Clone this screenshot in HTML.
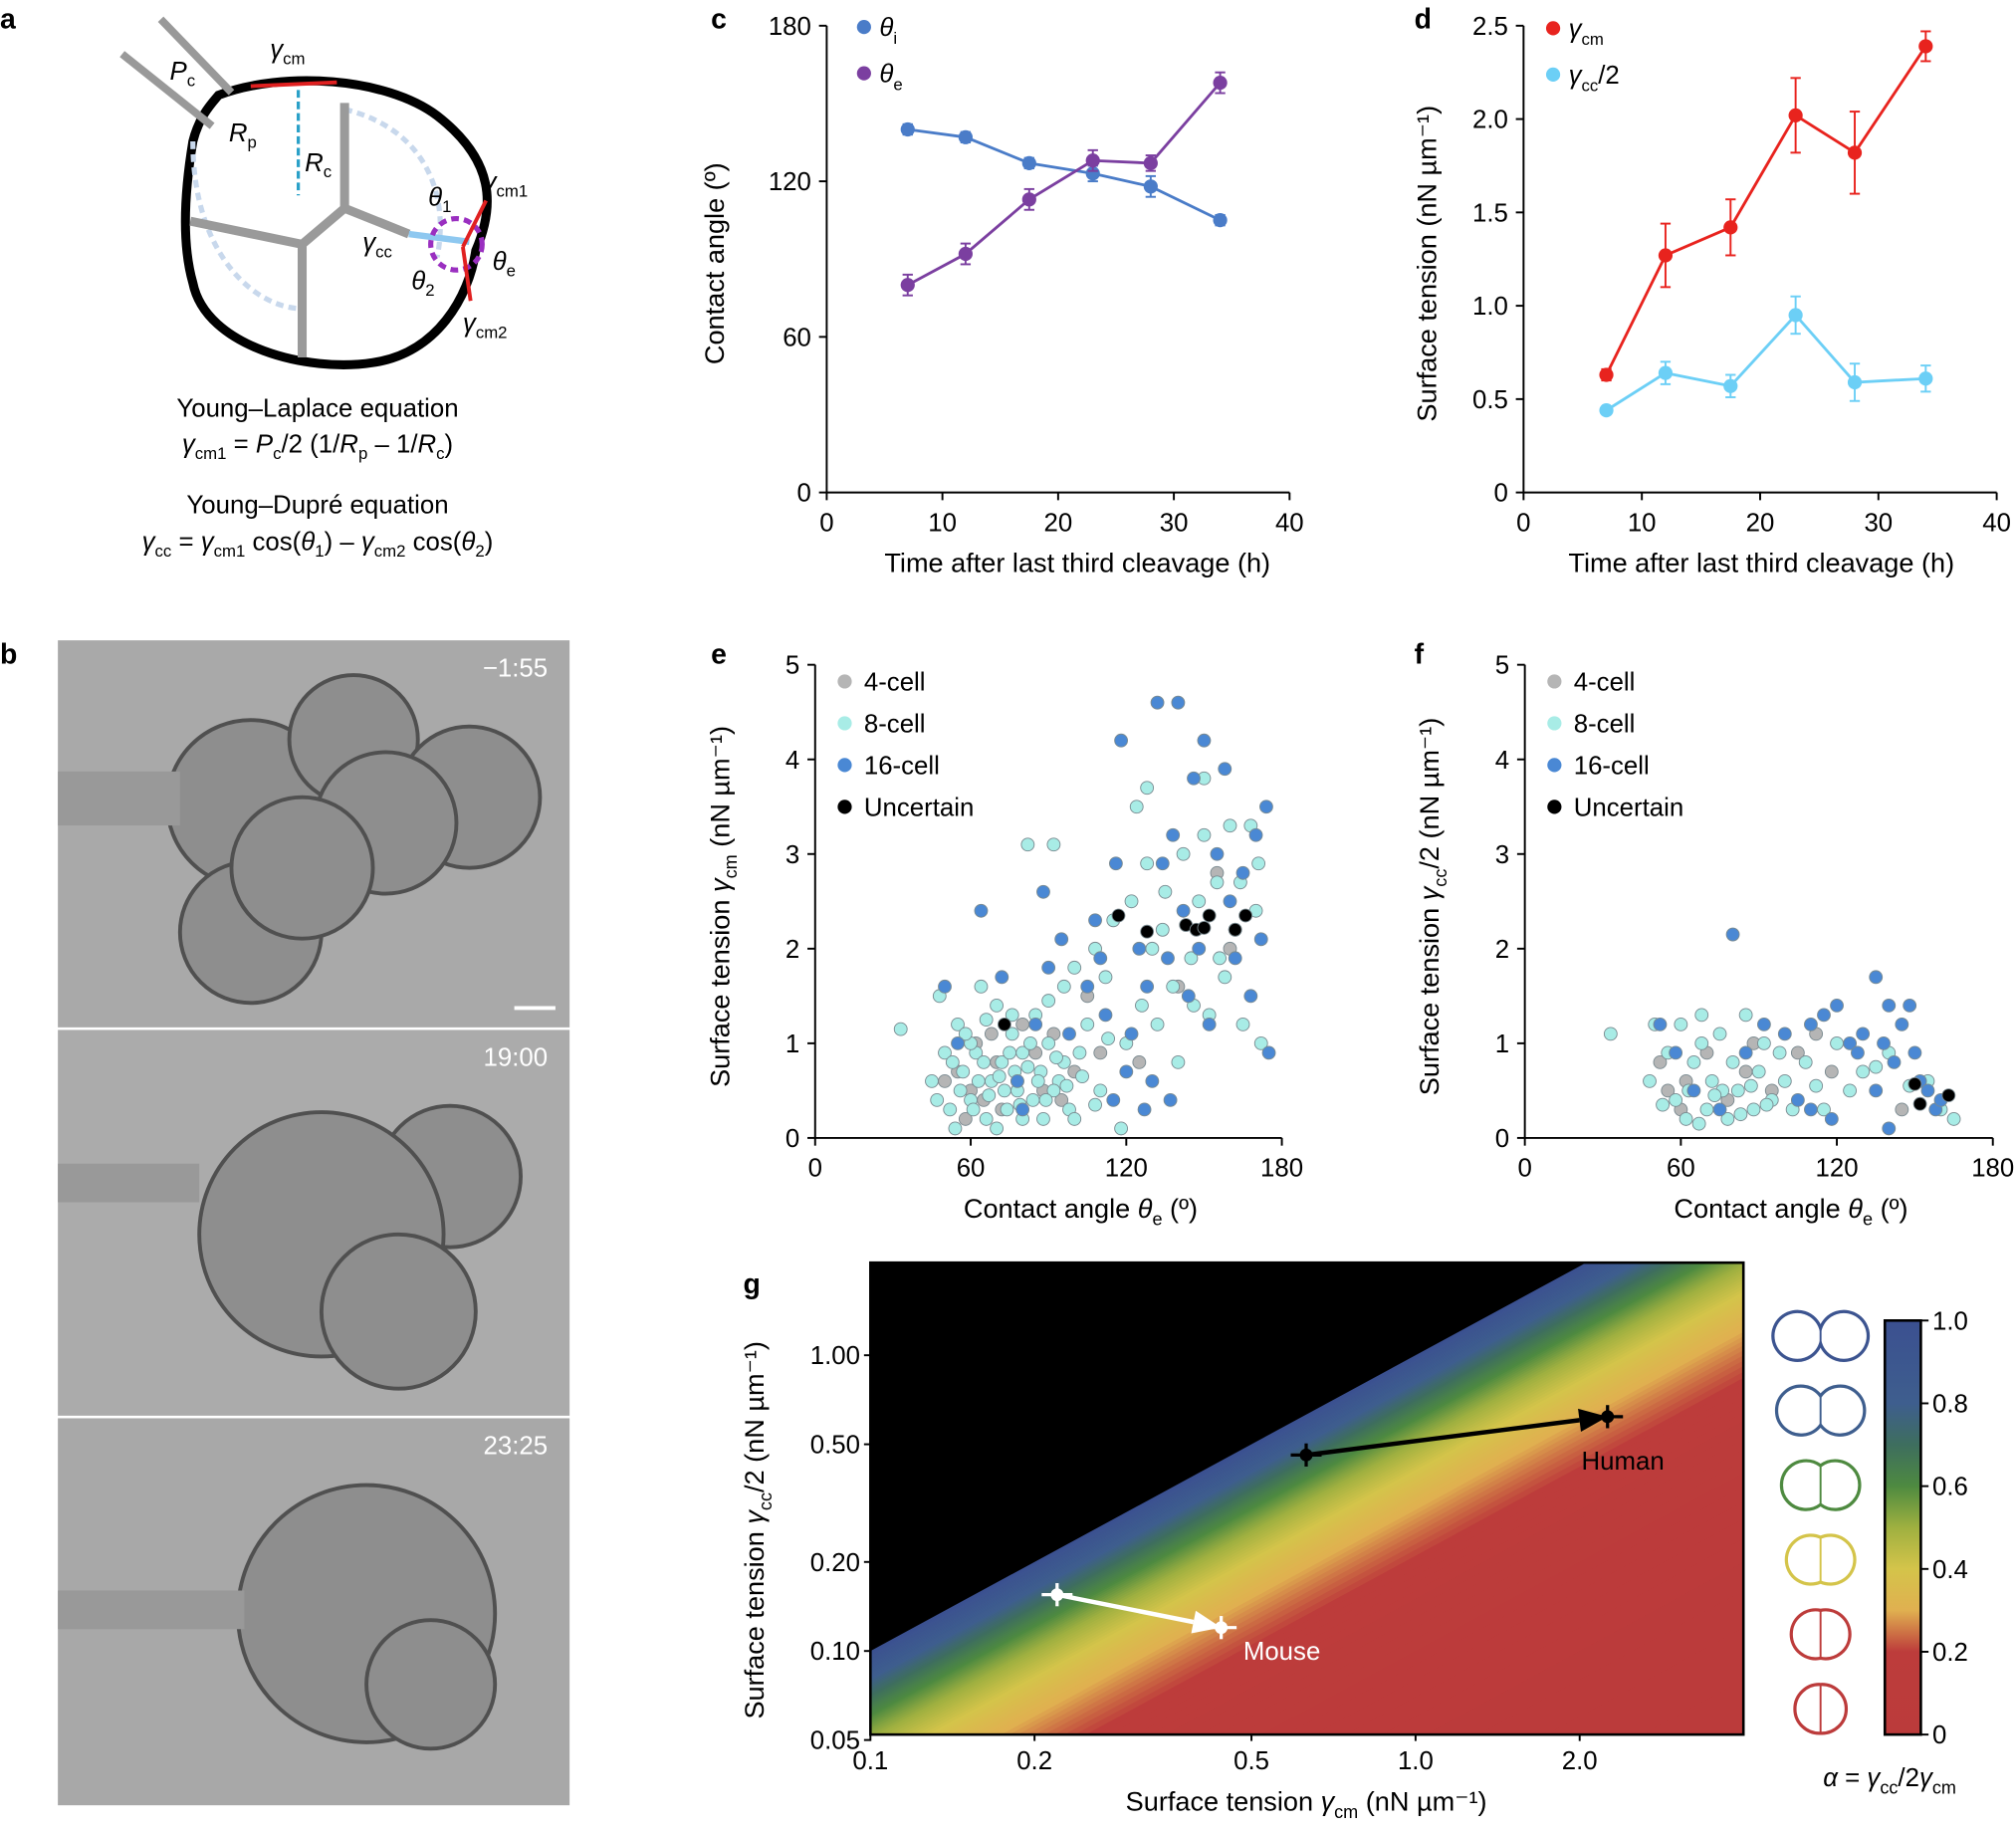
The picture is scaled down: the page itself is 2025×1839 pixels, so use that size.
<!DOCTYPE html>
<html><head><meta charset="utf-8">
<style>
html,body{margin:0;padding:0;background:#fff;width:2025px;height:1839px;overflow:hidden}
svg{display:block;font-family:"Liberation Sans",sans-serif}
</style></head>
<body>
<svg id="fig" width="2025" height="1839" viewBox="0 0 1568 1424" xmlns="http://www.w3.org/2000/svg">
<defs>
<clipPath id="gclip"><rect x="677" y="982" width="679" height="367"/></clipPath>
<linearGradient id="cbar" x1="0" y1="1" x2="0" y2="0">
<stop offset="0" stop-color="#bb3b3b"/><stop offset="0.2" stop-color="#bd3c3b"/>
<stop offset="0.3" stop-color="#e0b050"/><stop offset="0.4" stop-color="#d4c44a"/>
<stop offset="0.5" stop-color="#9fb040"/><stop offset="0.6" stop-color="#4e8a40"/>
<stop offset="0.7" stop-color="#3e6e5e"/><stop offset="0.8" stop-color="#3e5e8e"/>
<stop offset="1" stop-color="#3b5090"/></linearGradient>
</defs>

<g font-weight="bold" font-size="22">
<text x="0" y="22">a</text><text x="0" y="516">b</text><text x="553" y="22">c</text><text x="1100" y="22">d</text>
<text x="553" y="516">e</text><text x="1100" y="516">f</text><text x="578" y="1006">g</text></g>

<g>
<path d="M170 74 C220 55 300 60 340 90 C385 125 385 160 370 195 C365 230 340 275 290 282 C240 290 160 270 150 220 C140 185 145 140 150 110 C155 90 165 80 170 74 Z" fill="none" stroke="#000" stroke-width="7"/>
<path d="M150 110 C150 200 200 240 235 240" fill="none" stroke="#c8d8ec" stroke-width="4" stroke-dasharray="6 4"/>
<path d="M268 85 C330 100 350 150 340 200" fill="none" stroke="#c8d8ec" stroke-width="4" stroke-dasharray="6 4"/>
<g stroke="#9a9a9a" stroke-width="7" fill="none">
<path d="M268 80 L268 162 L235 190 L148 172"/><path d="M235 190 L235 278"/><path d="M268 162 L318 182"/></g>
<line x1="318" y1="182" x2="365" y2="188" stroke="#8ec8f0" stroke-width="5"/>
<circle cx="355" cy="190" r="20" fill="none" stroke="#9a2fc0" stroke-width="4" stroke-dasharray="6 4"/>
<line x1="232" y1="70" x2="232" y2="152" stroke="#2aa0c8" stroke-width="2.5" stroke-dasharray="6 3"/>
<g stroke="#e02020" stroke-width="3"><line x1="195" y1="67" x2="262" y2="64"/><line x1="360" y1="192" x2="378" y2="156"/><line x1="360" y1="192" x2="366" y2="234"/></g>
<line x1="95" y1="42" x2="165" y2="98" stroke="#999" stroke-width="6"/><line x1="125" y1="15" x2="180" y2="72" stroke="#999" stroke-width="6"/>
<g font-size="20" font-style="italic">
<text x="132" y="62">P<tspan font-size="13" dy="5" font-style="normal">c</tspan></text>
<text x="210" y="45">γ<tspan font-size="13" dy="5" font-style="normal">cm</tspan></text>
<text x="178" y="110">R<tspan font-size="13" dy="5" font-style="normal">p</tspan></text>
<text x="237" y="133">R<tspan font-size="13" dy="5" font-style="normal">c</tspan></text>
<text x="333" y="160">θ<tspan font-size="13" dy="5" font-style="normal">1</tspan></text>
<text x="320" y="225">θ<tspan font-size="13" dy="5" font-style="normal">2</tspan></text>
<text x="282" y="195">γ<tspan font-size="13" dy="5" font-style="normal">cc</tspan></text>
<text x="383" y="210">θ<tspan font-size="13" dy="5" font-style="normal">e</tspan></text>
<text x="376" y="148">γ<tspan font-size="13" dy="5" font-style="normal">cm1</tspan></text>
<text x="360" y="258">γ<tspan font-size="13" dy="5" font-style="normal">cm2</tspan></text></g>
<g font-size="20" text-anchor="middle">
<text x="247" y="324">Young–Laplace equation</text>
<text x="247" y="352"><tspan font-style="italic">γ</tspan><tspan font-size="13" dy="5">cm1</tspan><tspan dy="-5"> = </tspan><tspan font-style="italic">P</tspan><tspan font-size="13" dy="5">c</tspan><tspan dy="-5">/2 (1/</tspan><tspan font-style="italic">R</tspan><tspan font-size="13" dy="5">p</tspan><tspan dy="-5"> – 1/</tspan><tspan font-style="italic">R</tspan><tspan font-size="13" dy="5">c</tspan><tspan dy="-5">)</tspan></text>
<text x="247" y="399">Young–Dupré equation</text>
<text x="247" y="428"><tspan font-style="italic">γ</tspan><tspan font-size="13" dy="5">cc</tspan><tspan dy="-5"> = </tspan><tspan font-style="italic">γ</tspan><tspan font-size="13" dy="5">cm1</tspan><tspan dy="-5"> cos(</tspan><tspan font-style="italic">θ</tspan><tspan font-size="13" dy="5">1</tspan><tspan dy="-5">) – </tspan><tspan font-style="italic">γ</tspan><tspan font-size="13" dy="5">cm2</tspan><tspan dy="-5"> cos(</tspan><tspan font-style="italic">θ</tspan><tspan font-size="13" dy="5">2</tspan><tspan dy="-5">)</tspan></text></g>
</g>

<g>
<rect x="45" y="498" width="398" height="301" fill="#a9a9a9"/>
<rect x="45" y="801" width="398" height="300" fill="#ababab"/>
<rect x="45" y="1103" width="398" height="301" fill="#a8a8a8"/>
<g fill="#8e8e8e" stroke="#505050" stroke-width="3">
<circle cx="195" cy="625" r="65"/><circle cx="275" cy="575" r="50"/><circle cx="365" cy="620" r="55"/><circle cx="300" cy="640" r="55"/><circle cx="195" cy="725" r="55"/><circle cx="235" cy="675" r="55"/>
<circle cx="350" cy="915" r="55"/><circle cx="250" cy="960" r="95"/><circle cx="310" cy="1020" r="60"/>
<circle cx="285" cy="1255" r="100"/><circle cx="335" cy="1310" r="50"/></g>
<g fill="#999"><rect x="45" y="600" width="95" height="42"/><rect x="45" y="905" width="110" height="30"/><rect x="45" y="1237" width="145" height="30"/></g>
<g fill="#fff" font-size="20" text-anchor="end"><text x="426" y="526">−1:55</text><text x="426" y="829">19:00</text><text x="426" y="1131">23:25</text></g>
<line x1="400" y1="784" x2="432" y2="784" stroke="#fff" stroke-width="3"/>
</g>

<g id="charts"></g>
</svg>
<script>
const cTimes = [7, 12, 17.5, 23, 28, 34];
const thetaI = [140, 137, 127, 123, 118, 105];
const thetaIErr = [2, 2, 2, 3, 4, 2];
const thetaE = [80, 92, 113, 128, 127, 158];
const thetaEErr = [4, 4, 4, 4, 3, 4];
const cXTicks = [0, 10, 20, 30, 40];
const cYTicks = [0, 60, 120, 180];
const dTimes = [7, 12, 17.5, 23, 28, 34];
const gammaCm = [0.63, 1.27, 1.42, 2.02, 1.82, 2.39];
const gammaCmErr = [0.03, 0.17, 0.15, 0.2, 0.22, 0.08];
const gammaCc = [0.44, 0.64, 0.57, 0.95, 0.59, 0.61];
const gammaCcErr = [0.02, 0.06, 0.06, 0.1, 0.1, 0.07];
const dXTicks = [0, 10, 20, 30, 40];
const dYTicks = [0, 0.5, 1.0, 1.5, 2.0, 2.5];
const e4cell = [[55,0.7],[60,0.5],[62,1.0],[65,0.4],[70,0.8],[72,0.3],[78,0.6],[80,1.2],[85,0.9],[88,0.5],[92,1.1],[95,0.4],[100,0.7],[105,1.5],[110,0.9],[125,0.8],[140,1.6],[155,2.8],[160,2.0],[50,0.6],[58,0.2],[68,1.1]];
const e8cell = [[33,1.15],[45,0.6],[48,1.5],[50,0.9],[52,0.3],[55,1.2],[57,0.7],[60,0.4],[62,0.9],[64,1.6],[66,0.2],[68,0.6],[70,1.4],[72,0.8],[74,0.3],[76,1.1],[78,0.5],[80,0.9],[82,3.1],[84,0.4],[85,1.3],[87,0.7],[88,0.2],[90,1.0],[92,3.1],[94,0.6],[96,1.6],[98,0.3],[100,1.8],[102,0.9],[105,1.2],[108,2.0],[110,0.5],[112,1.7],[115,2.3],[118,0.1],[120,1.0],[122,2.5],[124,3.5],[126,1.4],[128,3.7],[130,2.0],[132,1.2],[135,2.6],[138,1.6],[140,0.8],[142,3.0],[145,1.9],[148,2.5],[150,3.2],[152,1.3],[155,2.7],[158,1.7],[160,3.3],[162,2.2],[165,1.2],[168,3.3],[170,2.4],[172,1.0],[150,3.8],[60,1.0],[65,0.8],[75,0.9],[83,1.0],[92,0.5],[56,0.5],[70,0.1],[80,0.2],[100,0.2],[53,0.8],[63,0.6],[73,0.5],[86,0.6],[96,0.8],[58,1.1],[77,0.7],[47,0.4],[54,0.1],[61,0.3],[67,0.45],[71,0.65],[79,0.35],[82,0.75],[89,0.4],[93,0.85],[97,0.55],[103,0.65],[66,1.25],[76,1.3],[90,1.45],[108,0.35],[113,1.05],[128,2.9],[134,2.2],[146,1.4],[156,1.9],[164,2.7],[171,2.9]];
const e16cell = [[50,1.6],[55,1.0],[64,2.4],[72,1.7],[78,0.6],[85,1.2],[90,1.8],[95,2.1],[98,1.1],[105,1.6],[108,2.3],[112,1.3],[115,0.4],[118,4.2],[120,0.7],[122,1.1],[125,2.0],[128,1.6],[130,0.6],[132,4.6],[134,2.9],[136,1.9],[138,3.2],[140,4.6],[142,2.4],[144,1.5],[146,3.8],[148,2.0],[150,4.2],[152,1.2],[155,3.0],[158,3.9],[160,2.5],[162,1.9],[165,2.8],[168,1.5],[170,3.2],[172,2.1],[174,3.5],[175,0.9],[88,2.6],[80,0.3],[116,2.9],[127,0.3],[137,0.4],[110,1.9]];
const eUnc = [[73,1.2],[117,2.35],[128,2.18],[143,2.25],[147,2.2],[150,2.22],[152,2.35],[162,2.2],[166,2.35]];
const f4cell = [[52,0.8],[60,0.3],[62,0.6],[70,0.9],[78,0.4],[85,0.7],[88,1.0],[95,0.5],[105,0.9],[112,1.1],[118,0.7],[145,0.3],[55,0.5]];
const f8cell = [[33,1.1],[48,0.6],[50,1.2],[55,0.9],[58,0.4],[60,1.2],[62,0.2],[65,0.8],[68,1.0],[70,0.3],[72,0.6],[75,1.1],[78,0.2],[80,0.8],[82,0.5],[85,1.3],[88,0.3],[90,0.7],[92,1.0],[95,0.4],[98,0.9],[100,0.6],[108,0.8],[115,0.3],[120,1.0],[125,0.5],[130,0.7],[140,0.9],[155,0.6],[160,0.3],[165,0.2],[68,1.3],[76,0.5],[53,0.35],[63,0.5],[67,0.15],[73,0.45],[83,0.25],[87,0.55],[93,0.35],[103,0.3],[112,0.55],[135,0.75],[148,0.55]];
const f16cell = [[52,1.2],[58,0.9],[65,0.5],[75,0.3],[80,2.15],[85,0.9],[92,1.2],[100,1.1],[105,0.4],[110,1.2],[115,1.3],[118,0.2],[125,1.0],[128,0.9],[130,1.1],[135,0.5],[138,1.0],[140,1.4],[142,0.8],[145,1.2],[148,1.4],[150,0.9],[152,0.6],[155,0.5],[158,0.3],[160,0.4],[135,1.7],[120,1.4],[110,0.3],[140,0.1]];
const fUnc = [[150,0.57],[152,0.36],[163,0.45]];
const efXTicks = [0, 60, 120, 180];
const efYTicks = [0, 1, 2, 3, 4, 5];
const gXTicks = [0.1, 0.2, 0.5, 1.0, 2.0];
const gXTickLabels = ["0.1", "0.2", "0.5", "1.0", "2.0"];
const gYTicks = [0.05, 0.10, 0.20, 0.50, 1.00];
const gYTickLabels = ["0.05", "0.10", "0.20", "0.50", "1.00"];
const humanX = [0.63, 2.25];
const humanY = [0.46, 0.62];
const mouseX = [0.22, 0.44];
const mouseY = [0.155, 0.12];
const cbTicks = [0, 0.2, 0.4, 0.6, 0.8, 1.0];
const cbTickLabels = ["0", "0.2", "0.4", "0.6", "0.8", "1.0"];
const cellAlphas = [0.95, 0.8, 0.6, 0.4, 0.2, 0.05];

const NS = "http://www.w3.org/2000/svg";
const root = document.getElementById("charts");
function mk(tag, attrs, parent, text) {
  const e = document.createElementNS(NS, tag);
  for (const k in attrs) e.setAttribute(k, attrs[k]);
  if (text !== undefined) e.textContent = text;
  (parent || root).appendChild(e);
  return e;
}
function lin(d0, d1, r0, r1) { return v => r0 + (v - d0) / (d1 - d0) * (r1 - r0); }

function axes(g, x0, x1, y0, y1, xs, ys, xt, yt, fmtY) {
  mk("line", {x1: x0, y1: y0, x2: x1, y2: y0, stroke: "#000", "stroke-width": 1.5}, g);
  mk("line", {x1: x0, y1: y0, x2: x0, y2: y1, stroke: "#000", "stroke-width": 1.5}, g);
  xt.forEach(v => {
    mk("line", {x1: xs(v), y1: y0, x2: xs(v), y2: y0 + 6, stroke: "#000", "stroke-width": 1.5}, g);
    const t = mk("text", {x: xs(v), y: y0 + 30, "text-anchor": "middle", "font-size": 20}, g, String(v));
    
    
  });
  yt.forEach(v => {
    mk("line", {x1: x0 - 6, y1: ys(v), x2: x0, y2: ys(v), stroke: "#000", "stroke-width": 1.5}, g);
    const t = mk("text", {x: x0 - 12, y: ys(v) + 7, "text-anchor": "end", "font-size": 20}, g, fmtY ? fmtY(v) : String(v));
    
    
  });
}

function lineSeries(g, xs, ys, X, Y, E, color, name) {
  const s = mk("g", {}, g);
  
  
  mk("polyline", {points: X.map((x, i) => xs(x) + "," + ys(Y[i])).join(" "), fill: "none", stroke: color, "stroke-width": 2.2}, s);
  X.forEach((x, i) => {
    const cx = xs(x), a = ys(Y[i] + E[i]), b = ys(Y[i] - E[i]);
    mk("line", {x1: cx, y1: a, x2: cx, y2: b, stroke: color, "stroke-width": 1.5}, s);
    mk("line", {x1: cx - 4, y1: a, x2: cx + 4, y2: a, stroke: color, "stroke-width": 1.5}, s);
    mk("line", {x1: cx - 4, y1: b, x2: cx + 4, y2: b, stroke: color, "stroke-width": 1.5}, s);
    const p = mk("circle", {cx: cx, cy: ys(Y[i]), r: 5.5, fill: color}, s);
    
    
  });
}

(function () {
  const g = mk("g", {});  
  const xs = lin(0, 40, 643, 1003), ys = lin(0, 180, 383, 20);
  axes(g, 643, 1003, 383, 20, xs, ys, cXTicks, cYTicks);
  lineSeries(g, xs, ys, cTimes, thetaI, thetaIErr, "#4a7cc8", "theta-i-series");
  lineSeries(g, xs, ys, cTimes, thetaE, thetaEErr, "#7b3fa0", "theta-e-series");
  const t1 = mk("text", {x: 838, y: 445, "text-anchor": "middle", "font-size": 21}, g, "Time after last third cleavage (h)");
   
  const t2 = mk("text", {x: 0, y: 0, transform: "translate(563,205) rotate(-90)", "text-anchor": "middle", "font-size": 21}, g, "Contact angle (º)");
   
  const lg = mk("g", {}, g);  
  mk("circle", {cx: 672, cy: 21, r: 5.5, fill: "#4a7cc8"}, lg);
  mk("text", {x: 684, y: 28, "font-size": 20, "font-style": "italic"}, lg, "θ").appendChild(mk("tspan", {"font-size": 13, dy: 6, "font-style": "normal"}, lg, "i"));
  mk("circle", {cx: 672, cy: 57, r: 5.5, fill: "#7b3fa0"}, lg);
  mk("text", {x: 684, y: 64, "font-size": 20, "font-style": "italic"}, lg, "θ").appendChild(mk("tspan", {"font-size": 13, dy: 6, "font-style": "normal"}, lg, "e"));
})();

(function () {
  const g = mk("g", {});  
  const xs = lin(0, 40, 1185, 1553), ys = lin(0, 2.5, 383, 20);
  axes(g, 1185, 1553, 383, 20, xs, ys, dXTicks, dYTicks, v => v === 0 ? "0" : v.toFixed(1));
  lineSeries(g, xs, ys, dTimes, gammaCm, gammaCmErr, "#e8231e", "gamma-cm-series");
  lineSeries(g, xs, ys, dTimes, gammaCc, gammaCcErr, "#6ccff6", "gamma-cc-series");
  const t1 = mk("text", {x: 1370, y: 445, "text-anchor": "middle", "font-size": 21}, g, "Time after last third cleavage (h)");
   
  const t2 = mk("text", {x: 0, y: 0, transform: "translate(1117,205) rotate(-90)", "text-anchor": "middle", "font-size": 21}, g, "Surface tension (nN µm⁻¹)");
   
  const lg = mk("g", {}, g);  
  mk("circle", {cx: 1208, cy: 22, r: 5.5, fill: "#e8231e"}, lg);
  mk("text", {x: 1220, y: 29, "font-size": 20, "font-style": "italic"}, lg, "γ").appendChild(mk("tspan", {"font-size": 13, dy: 6, "font-style": "normal"}, lg, "cm"));
  mk("circle", {cx: 1208, cy: 58, r: 5.5, fill: "#6ccff6"}, lg);
  const tt = mk("text", {x: 1220, y: 65, "font-size": 20, "font-style": "italic"}, lg, "γ");
  mk("tspan", {"font-size": 13, dy: 6, "font-style": "normal"}, tt, "cc");
  mk("tspan", {dy: -6, "font-style": "normal"}, tt, "/2");
})();

function scatter(name, x0, x1, y0, y1, sets, ytitle, yTitleX) {
  const g = mk("g", {});  
  const xs = lin(0, 180, x0, x1), ys = lin(0, 5, y0, y1);
  axes(g, x0, x1, y0, y1, xs, ys, efXTicks, efYTicks);
  sets.forEach(s => {
    const sg = mk("g", {}, g);
    
    
    s.data.forEach(p => {
      const c = mk("circle", {cx: xs(p[0]), cy: ys(p[1]), r: 5, fill: s.color, stroke: "#7a8a90", "stroke-width": 0.7}, sg);
      
      
    });
  });
  const lg = mk("g", {}, g);  
  sets.forEach((s, i) => {
    mk("circle", {cx: x0 + 23, cy: 530 + i * 32.5, r: 5.5, fill: s.legendColor}, lg);
    const t = mk("text", {x: x0 + 38, y: 537 + i * 32.5, "font-size": 20}, lg, s.label);
     
  });
  const t1 = mk("text", {x: (x0 + x1) / 2 + 25, y: 947, "text-anchor": "middle", "font-size": 21}, g, "");
   
  t1.appendChild(document.createTextNode("Contact angle "));
  mk("tspan", {"font-style": "italic"}, t1, "θ");
  mk("tspan", {"font-size": 14, dy: 6}, t1, "e");
  mk("tspan", {dy: -6}, t1, " (º)");
  const t2 = mk("text", {x: 0, y: 0, transform: "translate(" + yTitleX + ",705) rotate(-90)", "text-anchor": "middle", "font-size": 21}, g, "");
   
  t2.appendChild(document.createTextNode("Surface tension "));
  mk("tspan", {"font-style": "italic"}, t2, "γ");
  mk("tspan", {"font-size": 14, dy: 6}, t2, ytitle);
  mk("tspan", {dy: -6}, t2, ytitle === "cc" ? "/2 (nN µm⁻¹)" : " (nN µm⁻¹)");
}
scatter("panel-e-scatter", 634, 997, 885, 517, [
  {name: "four-cell", label: "4-cell", data: e4cell, color: "#b5b5b5", legendColor: "#b5b5b5"},
  {name: "eight-cell", label: "8-cell", data: e8cell, color: "#a8ece6", legendColor: "#a8ece6"},
  {name: "sixteen-cell", label: "16-cell", data: e16cell, color: "#4a88d4", legendColor: "#4a88d4"},
  {name: "uncertain", label: "Uncertain", data: eUnc, color: "#000", legendColor: "#000"}], "cm", 567);
scatter("panel-f-scatter", 1186, 1550, 885, 517, [
  {name: "four-cell", label: "4-cell", data: f4cell, color: "#b5b5b5", legendColor: "#b5b5b5"},
  {name: "eight-cell", label: "8-cell", data: f8cell, color: "#a8ece6", legendColor: "#a8ece6"},
  {name: "sixteen-cell", label: "16-cell", data: f16cell, color: "#4a88d4", legendColor: "#4a88d4"},
  {name: "uncertain", label: "Uncertain", data: fUnc, color: "#000", legendColor: "#000"}], "cc", 1119);

function alphaColor(a) {
  const st = [[0,[187,59,59]],[0.2,[189,60,59]],[0.3,[224,176,80]],[0.4,[212,196,74]],[0.5,[159,176,64]],[0.6,[78,138,64]],[0.7,[62,110,94]],[0.8,[62,94,142]],[1,[59,80,144]]];
  for (let i = 1; i < st.length; i++) if (a <= st[i][0]) {
    const t = (a - st[i-1][0]) / (st[i][0] - st[i-1][0]);
    const c = st[i-1][1].map((v, k) => Math.round(v + (st[i][1][k] - v) * t));
    return "rgb(" + c.join(",") + ")";
  }
  return "rgb(59,80,144)";
}
(function () {
  const g = mk("g", {});  
  const X0 = 677, X1 = 1356, Y0 = 1349, Y1 = 982;
  const xs = v => X0 + 424 * Math.log10(v / 0.1);
  const ys = v => 1284 - 230 * Math.log10(v / 0.1);
  const hm = mk("g", {"clip-path": "url(#gclip)"}, g);
   
  mk("rect", {x: X0, y: Y1, width: X1 - X0, height: Y0 - Y1, fill: alphaColor(0)}, hm);
  const lineY = (px, a) => 1284 - 230 * (((px - X0) / 424) + Math.log10(a));
  for (let i = 1; i <= 100; i++) {
    const a = i / 100;
    mk("polygon", {points: [X0, lineY(X0, a), X1, lineY(X1, a), X1, 0, X0, 0].join(" "), fill: i === 100 ? "#000" : alphaColor(a)}, hm);
  }
  mk("rect", {x: X0, y: Y1, width: X1 - X0, height: Y0 - Y1, fill: "none", stroke: "#000", "stroke-width": 2}, g);
  gXTicks.forEach((v, i) => {
    mk("line", {x1: xs(v), y1: Y0, x2: xs(v), y2: Y0 + 5, stroke: "#000", "stroke-width": 1.5}, g);
    const t = mk("text", {x: xs(v), y: Y0 + 27, "text-anchor": "middle", "font-size": 20}, g, gXTickLabels[i]);
     
  });
  gYTicks.forEach((v, i) => {
    mk("line", {x1: X0 - 5, y1: ys(v), x2: X0, y2: ys(v), stroke: "#000", "stroke-width": 1.5}, g);
    const t = mk("text", {x: X0 - 8, y: ys(v) + 7, "text-anchor": "end", "font-size": 20}, g, gYTickLabels[i]);
     
  });
  function traj(X, Y, color, name, label, lx, ly) {
    const s = mk("g", {}, g);  
    const x1 = xs(X[0]), y1 = ys(Y[0]), x2 = xs(X[1]), y2 = ys(Y[1]);
    const ang = Math.atan2(y2 - y1, x2 - x1);
    const bx = x2 - 22 * Math.cos(ang), by = y2 - 22 * Math.sin(ang);
    mk("line", {x1: x1, y1: y1, x2: bx, y2: by, stroke: color, "stroke-width": 3.5}, s);
    const px = -Math.sin(ang), py = Math.cos(ang);
    mk("polygon", {points: [x2, y2, bx + 9 * px, by + 9 * py, bx - 9 * px, by - 9 * py].join(" "), fill: color}, s);
    [[x1, y1], [x2, y2]].forEach(p => {
      mk("line", {x1: p[0] - 12, y1: p[1], x2: p[0] + 12, y2: p[1], stroke: color, "stroke-width": 2.5}, s);
      mk("line", {x1: p[0], y1: p[1] - 9, x2: p[0], y2: p[1] + 9, stroke: color, "stroke-width": 2.5}, s);
      mk("circle", {cx: p[0], cy: p[1], r: 5, fill: color}, s);
    });
    mk("text", {x: lx, y: ly, "font-size": 20, fill: color}, s, label);
  }
  traj(humanX, humanY, "#000", "human-trajectory", "Human", 1230, 1143);
  traj(mouseX, mouseY, "#fff", "mouse-trajectory", "Mouse", 967, 1291);
  const t1 = mk("text", {x: 1016, y: 1408, "text-anchor": "middle", "font-size": 21}, g, "");
   
  t1.appendChild(document.createTextNode("Surface tension "));
  mk("tspan", {"font-style": "italic"}, t1, "γ");
  mk("tspan", {"font-size": 14, dy: 6}, t1, "cm");
  mk("tspan", {dy: -6}, t1, " (nN µm⁻¹)");
  const t2 = mk("text", {x: 0, y: 0, transform: "translate(594,1190) rotate(-90)", "text-anchor": "middle", "font-size": 21}, g, "");
   
  t2.appendChild(document.createTextNode("Surface tension "));
  mk("tspan", {"font-style": "italic"}, t2, "γ");
  mk("tspan", {"font-size": 14, dy: 6}, t2, "cc");
  mk("tspan", {dy: -6}, t2, "/2 (nN µm⁻¹)");
  const ic = mk("g", {}, g);  
  cellAlphas.forEach((a, i) => {
    const cy = 1039 + i * 58, cx = 1416, r = 19;
    const d = Math.max(0.8, r * a);
    const col = alphaColor(a);
    const h = Math.sqrt(Math.max(0, r * r - d * d));
    const path = "M" + cx + "," + (cy - h) + " A" + r + "," + r + " 0 1 0 " + cx + "," + (cy + h) + " A" + r + "," + r + " 0 1 0 " + cx + "," + (cy - h) + " Z";
    mk("path", {d: path, fill: "none", stroke: col, "stroke-width": 2.5}, ic);
    mk("line", {x1: cx, y1: cy - h, x2: cx, y2: cy + h, stroke: col, "stroke-width": 1.5}, ic);
  });
  const cb = mk("g", {}, g);  
  const cy = lin(0, 1, 1349, 1027);
  mk("rect", {x: 1466, y: 1027, width: 28, height: 322, fill: "url(#cbar)", stroke: "#000", "stroke-width": 2}, cb);
  cbTicks.forEach((v, i) => {
    mk("line", {x1: 1494, y1: cy(v), x2: 1500, y2: cy(v), stroke: "#000", "stroke-width": 1.5}, cb);
    mk("text", {x: 1503, y: cy(v) + 7, "font-size": 20}, cb, cbTickLabels[i]);
  });
  const ct = mk("text", {x: 1418, y: 1389, "font-size": 20}, cb, "");
  mk("tspan", {"font-style": "italic"}, ct, "α");
  ct.appendChild(document.createTextNode(" = "));
  mk("tspan", {"font-style": "italic"}, ct, "γ");
  mk("tspan", {"font-size": 14, dy: 6}, ct, "cc");
  mk("tspan", {dy: -6}, ct, "/2");
  mk("tspan", {"font-style": "italic"}, ct, "γ");
  mk("tspan", {"font-size": 14, dy: 6}, ct, "cm");
})();
</script>
</body></html>
